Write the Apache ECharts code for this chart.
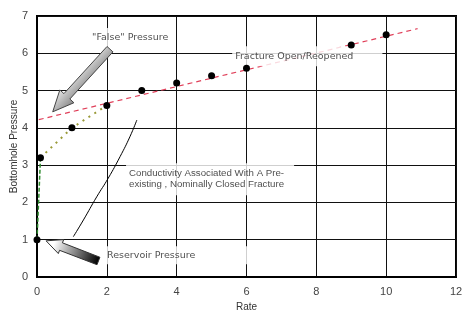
<!DOCTYPE html>
<html>
<head>
<meta charset="utf-8">
<script src="https://cdn.jsdelivr.net/npm/echarts@6/dist/echarts.min.js"></script>
<style>
  html, body { margin: 0; padding: 0; background: #fff; }
  #chart { width: 474px; height: 325px; }
</style>
</head>
<body>
<div id="chart"></div>
<script>
// measured points
var rateX = [0, 0.1, 1, 2, 3, 4, 5, 6, 9, 10];
var pressY = [1, 3.2, 4.0, 4.6, 5.0, 5.2, 5.4, 5.6, 6.22, 6.5];

// fracture open/reopened trend (red dashed)
var fracX = [0.05, 10.9];
var fracY = [4.22, 6.66];

// early steep part (green dashed) and closed-fracture part (olive dotted)
var steepX = [0, 0.1];
var steepY = [1, 3.2];
var closedX = [0.1, 1, 2];
var closedY = [3.2, 4.0, 4.6];

// pointer line from the conductivity note
var pointerX = [1.04, 1.33, 1.71, 2.04, 2.38, 2.66, 2.86];
var pointerY = [1.08, 1.53, 2.15, 2.65, 3.23, 3.76, 4.21];

// arrows: [tailX, tailY, tipX, tipY]
var falseArrow = [2.09, 6.11, 0.45, 4.43];
var reservoirArrow = [1.76, 0.43, 0.26, 0.97];

// notes: anchor at left-middle of each text box
var noteText = ['"False" Pressure', 'Fracture Open/Reopened',
    'Conductivity Associated With A Pre-\nexisting , Nominally Closed Fracture', 'Reservoir Pressure'];
var noteX = [1.52, 5.59, 2.55, 1.92];
var noteY = [6.41, 5.92, 2.62, 0.58];

function pairs(xs, ys) {
    var out = [];
    for (var i = 0; i < xs.length; ++i) out.push([xs[i], ys[i]]);
    return out;
}

var noteStyles = [
    { fontFamily: 'DejaVu Sans', fontSize: 9.5, padding: [5, 2, 5, 2] },
    { fontFamily: 'DejaVu Sans', fontSize: 9.5, padding: [4, 29, 6, 3] },
    { fontFamily: 'Liberation Sans', fontSize: 9.7, lineHeight: 11, padding: [5, 10, 5, 3] },
    { fontFamily: 'DejaVu Sans', fontSize: 9.5, padding: [3, 53, 5, 3] }
];

var arrowShapes = [
    { shaft: 4, head: 9.5, headLen: 21, c1: '#e2e2e2', c2: '#8a8a8a', stroke: '#444' },
    { shaft: 4, head: 7.5, headLen: 16, c1: '#ffffff', c2: '#000000', stroke: '#333' }
];

function renderArrow(params, api) {
    var s = arrowShapes[params.dataIndex];
    var t = api.coord([api.value(0), api.value(1)]);
    var p = api.coord([api.value(2), api.value(3)]);
    var dx = p[0] - t[0], dy = p[1] - t[1];
    var len = Math.sqrt(dx * dx + dy * dy);
    var ux = dx / len, uy = dy / len;
    var nx = -uy, ny = ux;
    var bx = p[0] - ux * s.headLen, by = p[1] - uy * s.headLen;
    var pts = [
        [t[0] + nx * s.shaft, t[1] + ny * s.shaft],
        [bx + nx * s.shaft, by + ny * s.shaft],
        [bx + nx * s.head, by + ny * s.head],
        [p[0], p[1]],
        [bx - nx * s.head, by - ny * s.head],
        [bx - nx * s.shaft, by - ny * s.shaft],
        [t[0] - nx * s.shaft, t[1] - ny * s.shaft]
    ];
    var fill;
    if (params.dataIndex === 0) {
        fill = new echarts.graphic.LinearGradient(
            p[0] + nx * s.head, p[1] + ny * s.head, p[0] - nx * s.head, p[1] - ny * s.head,
            [{ offset: 0, color: s.c1 }, { offset: 1, color: s.c2 }], true);
    } else {
        fill = new echarts.graphic.LinearGradient(p[0], p[1], t[0], t[1],
            [{ offset: 0.15, color: s.c1 }, { offset: 1, color: s.c2 }], true);
    }
    return {
        type: 'polygon',
        shape: { points: pts },
        style: { fill: fill, stroke: s.stroke, lineWidth: 1 }
    };
}

var chart = echarts.init(document.getElementById('chart'));

var noteData = [];
for (var i = 0; i < noteText.length; ++i) {
    noteData.push({
        value: [noteX[i], noteY[i]],
        label: Object.assign({
            show: true,
            formatter: noteText[i],
            position: 'right',
            distance: 0,
            align: 'left',
            verticalAlign: 'middle',
            color: '#222',
            backgroundColor: '#fff'
        }, noteStyles[i])
    });
}

var option = {
    animation: false,
    backgroundColor: '#fff',
    grid: {
        left: 37, right: 18, top: 16, bottom: 48,
        outerBoundsMode: 'none',
        containLabel: false,
        show: true, borderColor: '#000', borderWidth: 2
    },
    xAxis: {
        type: 'value', min: 0, max: 12, interval: 2,
        name: 'Rate', nameLocation: 'middle', nameGap: 25, nameMoveOverlap: false,
        nameTextStyle: { fontFamily: 'Liberation Sans', fontSize: 10, color: '#333' },
        axisLine: { show: true, lineStyle: { color: '#000', width: 2 } },
        axisTick: { show: false },
        axisLabel: { margin: 9, fontFamily: 'Liberation Sans', fontSize: 11, color: '#444' },
        splitLine: { show: true, lineStyle: { color: '#111', width: 1 } }
    },
    yAxis: {
        type: 'value', min: 0, max: 7, interval: 1,
        name: 'Bottomhole Pressure', nameLocation: 'middle', nameGap: 18, nameRotate: 90,
        nameMoveOverlap: false,
        nameTextStyle: { fontFamily: 'Liberation Sans', fontSize: 10, color: '#333' },
        axisLine: { show: true, lineStyle: { color: '#000', width: 2 } },
        axisTick: { show: false },
        axisLabel: { margin: 9, fontFamily: 'Liberation Sans', fontSize: 11, color: '#444' },
        splitLine: { show: true, lineStyle: { color: '#111', width: 1 } }
    },
    series: [
        {
            name: 'Fracture', type: 'line', data: pairs(fracX, fracY),
            symbol: 'none', z: 2,
            lineStyle: { color: '#e0405a', width: 1.2, type: [5, 4] }
        },
        {
            name: 'Steep', type: 'line', data: pairs(steepX, steepY),
            symbol: 'none', z: 2,
            lineStyle: { color: '#2e8b2e', width: 1.5, type: [4, 2] }
        },
        {
            name: 'Closed', type: 'line', data: pairs(closedX, closedY),
            symbol: 'none', z: 2,
            lineStyle: { color: '#9a9a38', width: 2, type: [2, 5] }
        },
        {
            name: 'Pointer', type: 'line', data: pairs(pointerX, pointerY),
            symbol: 'none', smooth: true, z: 2,
            lineStyle: { color: '#000', width: 1 }
        },
        {
            name: 'Notes', type: 'scatter', data: noteData,
            symbolSize: 0, z: 3, silent: true
        },
        {
            name: 'Points', type: 'scatter', data: pairs(rateX, pressY),
            symbolSize: 7, z: 4,
            itemStyle: { color: '#000', opacity: 1 }
        },
        {
            name: 'Arrows', type: 'custom', z: 5,
            data: [falseArrow, reservoirArrow],
            renderItem: renderArrow
        }
    ]
};

chart.setOption(option);
</script>
</body>
</html>
